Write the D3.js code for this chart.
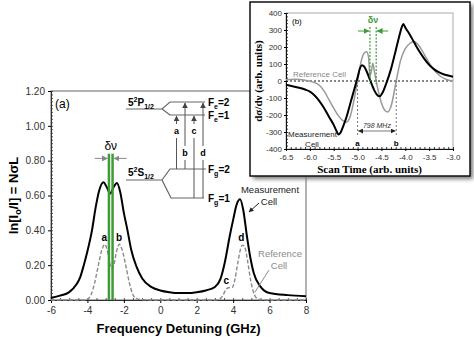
<!DOCTYPE html>
<html>
<head>
<meta charset="utf-8">
<script src="https://cdn.jsdelivr.net/npm/d3@7"></script>
<style>
  body { margin: 0; background: #fff; overflow: hidden; }
  svg { display: block; overflow: visible; }
</style>
</head>
<body>
<div id="chart"></div>
<script>
// panel (a): absorption vs detuning
const measFreq = [-6.0, -5.5, -5.0, -4.6, -4.4, -4.2, -4.0, -3.75, -3.55, -3.35, -3.12, -2.95, -2.75, -2.55, -2.38, -2.2, -2.0, -1.8, -1.6, -1.3, -1.0, -0.5, 0, 0.5, 1.0, 1.5, 2.0, 2.5, 3.0, 3.3, 3.55, 3.8, 4.0, 4.2, 4.38, 4.55, 4.76, 4.95, 5.13, 5.5, 6.0, 7.0, 8.0];
const measAbs = [0.012, 0.025, 0.045, 0.09, 0.13, 0.2, 0.28, 0.4, 0.53, 0.63, 0.676, 0.65, 0.612, 0.65, 0.672, 0.62, 0.5, 0.4, 0.29, 0.19, 0.125, 0.075, 0.055, 0.045, 0.04, 0.04, 0.045, 0.055, 0.075, 0.12, 0.22, 0.36, 0.46, 0.55, 0.578, 0.52, 0.364, 0.24, 0.155, 0.077, 0.04, 0.028, 0.022];
const refFreq = [-6.0, -4.2, -4.0, -3.8, -3.6, -3.4, -3.2, -3.05, -2.9, -2.75, -2.65, -2.55, -2.4, -2.25, -2.1, -1.9, -1.7, -1.5, -1.3, -1.0, 0, 3.0, 3.25, 3.45, 3.6, 3.75, 3.95, 4.1, 4.25, 4.4, 4.52, 4.65, 4.8, 4.95, 5.1, 5.25, 5.4, 6.0, 8.0];
const refAbs = [0, 0, 0.005, 0.03, 0.1, 0.2, 0.29, 0.32, 0.28, 0.2, 0.18, 0.2, 0.28, 0.32, 0.29, 0.2, 0.1, 0.03, 0.008, 0.002, 0, 0, 0.005, 0.03, 0.06, 0.07, 0.072, 0.12, 0.21, 0.29, 0.315, 0.3, 0.22, 0.12, 0.05, 0.015, 0.003, 0, 0];
const freqTicks = [-6, -4, -2, 0, 2, 4, 6, 8];
const absTicks = [0, 0.2, 0.4, 0.6, 0.8, 1.0, 1.2];
const deltaNuFreq = [-2.82, -2.62];
const peakLabels = ["a", "b", "c", "d"];
const peakFreq = [-3.08, -2.27, 3.62, 4.45];
const peakAbs = [0.36, 0.36, 0.11, 0.36];

// panel (b): derivative signals vs scan time
const measScan = [-6.5, -6.3, -6.1, -6.0, -5.9, -5.8, -5.7, -5.6, -5.5, -5.44, -5.4, -5.36, -5.3, -5.23, -5.15, -5.07, -5.0, -4.95, -4.91, -4.86, -4.8, -4.73, -4.65, -4.58, -4.54, -4.48, -4.4, -4.3, -4.2, -4.12, -4.07, -4.04, -4.0, -3.92, -3.8, -3.7, -3.6, -3.5, -3.4, -3.3, -3.2, -3.1, -3.0];
const measDeriv = [-22, -35, -50, -62, -85, -118, -160, -210, -258, -295, -315, -305, -265, -210, -130, -50, 20, 75, 93, 85, 50, 0, -55, -85, -90, -70, -15, 70, 180, 270, 320, 335, 315, 280, 220, 172, 130, 95, 70, 52, 40, 32, 25];
const refScan = [-6.5, -6.3, -6.1, -5.95, -5.8, -5.7, -5.6, -5.5, -5.4, -5.3, -5.23, -5.15, -5.08, -5.0, -4.93, -4.86, -4.81, -4.77, -4.74, -4.71, -4.68, -4.65, -4.58, -4.5, -4.42, -4.37, -4.3, -4.19, -4.1, -4.0, -3.9, -3.82, -3.75, -3.65, -3.55, -3.45, -3.35, -3.25, -3.15, -3.0];
const refDeriv = [8, 10, 5, -5, -25, -60, -110, -160, -205, -235, -242, -205, -120, 0, 110, 165, 172, 140, 30, 60, 105, 60, -40, -130, -175, -182, -150, 0, 120, 190, 222, 232, 220, 180, 130, 85, 50, 25, 10, 0];
const scanTicks = [-6.5, -6.0, -5.5, -5.0, -4.5, -4.0, -3.5, -3.0];
const derivTicks = [-400, -300, -200, -100, 0, 100, 200, 300, 400];
const crossingScan = [-5.0, -4.19];
const crossingLabels = ["a", "b"];
const deltaNuScan = [-4.74, -4.61];

const width = 474, height = 337;
const sans = "'Liberation Sans', Arial, sans-serif";
const serif = "'Liberation Serif', 'Times New Roman', serif";
const green = "#3f9a3a";

const svg = d3.select("#chart")
  .append("svg")
  .attr("width", width)
  .attr("height", height)
  .attr("font-family", sans);

const defs = svg.append("defs");
function marker(id, color, size) {
  defs.append("marker")
    .attr("id", id)
    .attr("viewBox", "0 0 10 10")
    .attr("refX", 9).attr("refY", 5)
    .attr("markerWidth", size).attr("markerHeight", size)
    .attr("orient", "auto-start-reverse")
    .attr("markerUnits", "userSpaceOnUse")
    .append("path")
    .attr("d", "M0,0 L10,5 L0,10 z")
    .attr("fill", color);
}
marker("arr-dark", "#444", 6);
marker("arr-gray", "#888", 6);
marker("arr-green", green, 6);
marker("arr-black", "#222", 5);

defs.append("filter").attr("id", "shadow")
  .attr("x", "-10%").attr("y", "-10%").attr("width", "130%").attr("height", "130%")
  .append("feGaussianBlur").attr("stdDeviation", 2);

// minor ticks: tick lines only, no empty labels
function minorTicks(g, axis, color) {
  g.call(axis);
  g.select(".domain").remove();
  g.selectAll("text").remove();
  g.selectAll("line").attr("stroke", color);
}

// ---------- main panel ----------
const margin = { top: 91, right: 168, bottom: 37, left: 51 };
const innerWidth = width - margin.left - margin.right;
const innerHeight = height - margin.top - margin.bottom;

const main = svg.append("g")
  .attr("transform", `translate(${margin.left},${margin.top})`);

const x = d3.scaleLinear().domain([-6, 8]).range([0, innerWidth]);
const y = d3.scaleLinear().domain([0, 1.2]).range([innerHeight, 0]);

main.append("rect")
  .attr("width", innerWidth)
  .attr("height", innerHeight)
  .attr("fill", "none")
  .attr("stroke", "#666");

main.append("g")
  .attr("transform", `translate(0,${innerHeight})`)
  .call(minorTicks, d3.axisBottom(x).tickValues(d3.range(-6, 8.01, 0.5)).tickSize(-2), "#555");

main.append("g")
  .call(minorTicks, d3.axisLeft(y).tickValues(d3.range(0, 1.201, 0.02)).tickSize(-2), "#555");

const xAxis = main.append("g")
  .attr("transform", `translate(0,${innerHeight})`)
  .call(d3.axisBottom(x).tickValues(freqTicks).tickSize(3).tickPadding(4).tickFormat(d => String(d)))
  .attr("font-family", sans)
  .attr("font-size", 10);
xAxis.select(".domain").attr("stroke", "#333");
xAxis.selectAll("text").attr("fill", "#333");

const yAxis = main.append("g")
  .call(d3.axisLeft(y).tickValues(absTicks).tickSize(3).tickPadding(3).tickFormat(d => d.toFixed(2)))
  .attr("font-family", sans)
  .attr("font-size", 10);
yAxis.select(".domain").attr("stroke", "#333");
yAxis.selectAll("text").attr("fill", "#333");

const line = d3.line()
  .x(d => x(d[0]))
  .y(d => y(d[1]))
  .curve(d3.curveMonotoneX);

main.append("path")
  .datum(d3.zip(refFreq, refAbs))
  .attr("d", line)
  .attr("fill", "none")
  .attr("stroke", "#8a8a8a")
  .attr("stroke-width", 1.4)
  .attr("stroke-dasharray", "4,2");

main.append("path")
  .datum(d3.zip(measFreq, measAbs))
  .attr("d", line)
  .attr("fill", "none")
  .attr("stroke", "#000")
  .attr("stroke-width", 2);

main.selectAll(".dnu")
  .data(deltaNuFreq)
  .enter()
  .append("line")
  .attr("class", "dnu")
  .attr("x1", d => x(d)).attr("x2", d => x(d))
  .attr("y1", y(0)).attr("y2", y(0.84))
  .attr("stroke", green)
  .attr("stroke-width", 2.5);

main.append("line")
  .attr("x1", x(-3.6)).attr("x2", x(deltaNuFreq[0]) - 1.5)
  .attr("y1", y(0.813)).attr("y2", y(0.813))
  .attr("stroke", "#888").attr("stroke-width", 1)
  .attr("marker-end", "url(#arr-gray)");
main.append("line")
  .attr("x1", x(-1.85)).attr("x2", x(deltaNuFreq[1]) + 1.5)
  .attr("y1", y(0.813)).attr("y2", y(0.813))
  .attr("stroke", "#888").attr("stroke-width", 1)
  .attr("marker-end", "url(#arr-gray)");
main.append("text")
  .attr("x", x(-2.72)).attr("y", y(0.86))
  .attr("text-anchor", "middle")
  .attr("font-size", 12)
  .text("δν");

main.selectAll(".peak")
  .data(peakLabels)
  .enter()
  .append("text")
  .attr("class", "peak")
  .attr("x", (d, i) => x(peakFreq[i]))
  .attr("y", (d, i) => y(peakAbs[i]) + 3.5)
  .attr("text-anchor", "middle")
  .attr("font-size", 10)
  .attr("font-weight", "bold")
  .text(d => d);

main.append("text")
  .attr("x", 4).attr("y", 17)
  .attr("font-size", 12)
  .text("(a)");

// annotations in absolute coordinates
svg.append("text")
  .attr("x", 270).attr("y", 193)
  .attr("text-anchor", "middle")
  .attr("font-size", 9.5)
  .attr("fill", "#222")
  .text("Measurement");
svg.append("text")
  .attr("x", 269).attr("y", 205)
  .attr("text-anchor", "middle")
  .attr("font-size", 9.5)
  .attr("fill", "#222")
  .text("Cell");
svg.append("line")
  .attr("x1", 259).attr("y1", 203).attr("x2", 249).attr("y2", 212)
  .attr("stroke", "#222").attr("stroke-width", 1)
  .attr("marker-end", "url(#arr-black)");

svg.append("text")
  .attr("x", 280).attr("y", 257)
  .attr("text-anchor", "middle")
  .attr("font-size", 9.5)
  .attr("fill", "#8a8a8a")
  .text("Reference");
svg.append("text")
  .attr("x", 279).attr("y", 269)
  .attr("text-anchor", "middle")
  .attr("font-size", 9.5)
  .attr("fill", "#8a8a8a")
  .text("Cell");
svg.append("line")
  .attr("x1", 269).attr("y1", 270).attr("x2", 255).attr("y2", 292)
  .attr("stroke", "#8a8a8a").attr("stroke-width", 1);

svg.append("text")
  .attr("x", margin.left + innerWidth / 2).attr("y", 333)
  .attr("text-anchor", "middle")
  .attr("font-size", 13)
  .attr("font-weight", "bold")
  .text("Frequency Detuning (GHz)");

const yTitle = svg.append("text")
  .attr("transform", `translate(18,${margin.top + innerHeight / 2}) rotate(-90)`)
  .attr("text-anchor", "middle")
  .attr("font-size", 13)
  .attr("font-weight", "bold");
yTitle.append("tspan").text("ln[I");
yTitle.append("tspan").attr("dy", 3).attr("font-size", 9).text("o");
yTitle.append("tspan").attr("dy", -3).text("/I] = NσL");

// ---------- level diagram ----------
const diagram = svg.append("g")
  .attr("stroke", "#666")
  .attr("stroke-width", 1.2)
  .attr("fill", "none");
const levelY = { P: 109, e2: 102, e1: 115, S: 180, g2: 169, g1: 198 };
diagram.append("path").attr("d", `M126,${levelY.P} H162 L170,${levelY.e2} H205 M162,${levelY.P} L170,${levelY.e1} H205`);
diagram.append("path").attr("d", `M126,${levelY.S} H162 L170,${levelY.g2} H206 M162,${levelY.S} L171,${levelY.g1} H204`);

function stateLabel(xPos, yBase, main1, sup, sub) {
  const t = svg.append("text").attr("x", xPos).attr("y", yBase)
    .attr("font-size", 10).attr("font-weight", "bold");
  t.append("tspan").text(main1);
  t.append("tspan").attr("dy", -4).attr("font-size", 7).text(sup);
  t.append("tspan").attr("dy", 4).text(sub[0]);
  t.append("tspan").attr("dy", 3).attr("font-size", 7).text(sub[1]);
}
stateLabel(128, 106, "5", "2", ["P", "1/2"]);
stateLabel(128, 176, "5", "2", ["S", "1/2"]);

function levelLabel(yPos, sub, num) {
  const t = svg.append("text").attr("x", 208).attr("y", yPos + 4)
    .attr("font-size", 10).attr("font-weight", "bold");
  t.append("tspan").text("F");
  t.append("tspan").attr("dy", 3).attr("font-size", 7).text(sub);
  t.append("tspan").attr("dy", -3).text("=" + num);
}
levelLabel(levelY.e2, "e", 2);
levelLabel(levelY.e1, "e", 1);
levelLabel(levelY.g2, "g", 2);
levelLabel(levelY.g1, "g", 1);

const transitions = [
  { name: "a", x: 176.5, from: levelY.g2, to: levelY.e1, label: 131 },
  { name: "b", x: 185, from: levelY.g2, to: levelY.e2, label: 153 },
  { name: "c", x: 194, from: levelY.g1, to: levelY.e1, label: 131 },
  { name: "d", x: 203, from: levelY.g1, to: levelY.e2, label: 153 }
];
transitions.forEach(t => {
  svg.append("line")
    .attr("x1", t.x).attr("x2", t.x)
    .attr("y1", t.from).attr("y2", t.label + 7)
    .attr("stroke", "#555").attr("stroke-width", 1);
  svg.append("line")
    .attr("x1", t.x).attr("x2", t.x)
    .attr("y1", t.label - 7).attr("y2", t.to + 1)
    .attr("stroke", "#555").attr("stroke-width", 1)
    .attr("marker-end", "url(#arr-dark)");
  svg.append("text")
    .attr("x", t.x).attr("y", t.label + 3)
    .attr("text-anchor", "middle")
    .attr("font-size", 9)
    .attr("font-weight", "bold")
    .text(t.name);
});

// ---------- inset (b) ----------
const box = { x: 250, y: 2, w: 220, h: 174 };
svg.append("rect")
  .attr("x", box.x + 3).attr("y", box.y + 3)
  .attr("width", box.w).attr("height", box.h)
  .attr("fill", "#777")
  .attr("filter", "url(#shadow)");
svg.append("rect")
  .attr("x", box.x).attr("y", box.y)
  .attr("width", box.w).attr("height", box.h)
  .attr("fill", "#fff")
  .attr("stroke", "#111")
  .attr("stroke-width", 1.5);

const im = { top: 13, left: 286, width: 167, height: 136 };
const inset = svg.append("g")
  .attr("transform", `translate(${im.left},${im.top})`);

const xs = d3.scaleLinear().domain([-6.5, -3.0]).range([0, im.width]);
const ys = d3.scaleLinear().domain([-400, 400]).range([im.height, 0]);

inset.append("rect")
  .attr("width", im.width).attr("height", im.height)
  .attr("fill", "none").attr("stroke", "#aaa");

inset.append("g")
  .attr("transform", `translate(0,${im.height})`)
  .call(minorTicks, d3.axisBottom(xs).tickValues(d3.range(-6.5, -2.99, 0.1)).tickSize(-2), "#333");
inset.append("g")
  .call(minorTicks, d3.axisLeft(ys).tickValues(d3.range(-400, 401, 20)).tickSize(-2), "#333");

const sxAxis = inset.append("g")
  .attr("transform", `translate(0,${im.height})`)
  .call(d3.axisBottom(xs).tickValues(scanTicks).tickSize(2).tickPadding(3).tickFormat(d => d.toFixed(1)))
  .attr("font-family", sans)
  .attr("font-size", 8);
sxAxis.select(".domain").attr("stroke", "#111");
sxAxis.selectAll("text").attr("fill", "#333");

const syAxis = inset.append("g")
  .call(d3.axisLeft(ys).tickValues(derivTicks).tickSize(2).tickPadding(2).tickFormat(d => String(d)))
  .attr("font-family", sans)
  .attr("font-size", 8);
syAxis.select(".domain").attr("stroke", "#111");
syAxis.selectAll("text").attr("fill", "#333");

inset.append("line")
  .attr("x1", 0).attr("x2", im.width)
  .attr("y1", ys(0)).attr("y2", ys(0))
  .attr("stroke", "#111").attr("stroke-dasharray", "2,2");

const sline = d3.line()
  .x(d => xs(d[0]))
  .y(d => ys(d[1]))
  .curve(d3.curveMonotoneX);

inset.append("path")
  .datum(d3.zip(refScan, refDeriv))
  .attr("d", sline)
  .attr("fill", "none")
  .attr("stroke", "#999")
  .attr("stroke-width", 1.5);

inset.append("path")
  .datum(d3.zip(measScan, measDeriv))
  .attr("d", sline)
  .attr("fill", "none")
  .attr("stroke", "#000")
  .attr("stroke-width", 2);

inset.selectAll(".cross")
  .data(crossingScan)
  .enter()
  .append("line")
  .attr("x1", d => xs(d)).attr("x2", d => xs(d))
  .attr("y1", ys(0)).attr("y2", 124)
  .attr("stroke", "#777").attr("stroke-dasharray", "2,2");
inset.selectAll(".crossLabel")
  .data(crossingLabels)
  .enter()
  .append("text")
  .attr("x", (d, i) => xs(crossingScan[i]))
  .attr("y", 133)
  .attr("text-anchor", "middle")
  .attr("font-size", 8)
  .attr("font-weight", "bold")
  .text(d => d);
inset.append("line")
  .attr("x1", xs(crossingScan[0]) + 1).attr("x2", xs(crossingScan[1]) - 1)
  .attr("y1", 118).attr("y2", 118)
  .attr("stroke", "#555").attr("stroke-width", 0.8)
  .attr("marker-start", "url(#arr-black)")
  .attr("marker-end", "url(#arr-black)");
inset.append("text")
  .attr("x", (xs(crossingScan[0]) + xs(crossingScan[1])) / 2)
  .attr("y", 115)
  .attr("text-anchor", "middle")
  .attr("font-size", 7)
  .attr("font-style", "italic")
  .attr("fill", "#333")
  .text("798 MHz");

inset.selectAll(".sdnu")
  .data(deltaNuScan)
  .enter()
  .append("line")
  .attr("x1", d => xs(d)).attr("x2", d => xs(d))
  .attr("y1", 14).attr("y2", ys(0) + 3)
  .attr("stroke", green).attr("stroke-width", 1.2)
  .attr("stroke-dasharray", "2,1.5");
inset.append("line")
  .attr("x1", xs(deltaNuScan[0]) - 12).attr("x2", xs(deltaNuScan[0]) - 1)
  .attr("y1", 18).attr("y2", 18)
  .attr("stroke", green).attr("marker-end", "url(#arr-green)");
inset.append("line")
  .attr("x1", xs(deltaNuScan[1]) + 12).attr("x2", xs(deltaNuScan[1]) + 1)
  .attr("y1", 18).attr("y2", 18)
  .attr("stroke", green).attr("marker-end", "url(#arr-green)");
inset.append("text")
  .attr("x", (xs(deltaNuScan[0]) + xs(deltaNuScan[1])) / 2)
  .attr("y", 10)
  .attr("text-anchor", "middle")
  .attr("font-size", 9)
  .attr("font-weight", "bold")
  .attr("fill", green)
  .text("δν");

inset.append("text")
  .attr("x", 6).attr("y", 11)
  .attr("font-size", 8)
  .text("(b)");
inset.append("text")
  .attr("x", 7).attr("y", ys(0) - 4)
  .attr("font-size", 8)
  .attr("fill", "#888")
  .text("Reference Cell");
inset.append("text")
  .attr("x", 2).attr("y", 124)
  .attr("font-size", 8)
  .attr("fill", "#222")
  .text("Measurement");
inset.append("text")
  .attr("x", 26).attr("y", 134)
  .attr("text-anchor", "middle")
  .attr("font-size", 8)
  .attr("fill", "#222")
  .text("Cell");

svg.append("text")
  .attr("x", im.left + im.width / 2).attr("y", 173)
  .attr("text-anchor", "middle")
  .attr("font-family", serif)
  .attr("font-size", 11)
  .attr("font-weight", "bold")
  .text("Scan Time (arb. units)");
svg.append("text")
  .attr("transform", `translate(262,${im.top + im.height / 2}) rotate(-90)`)
  .attr("text-anchor", "middle")
  .attr("font-family", serif)
  .attr("font-size", 11)
  .attr("font-weight", "bold")
  .text("dσ/dν (arb. units)");
</script>
</body>
</html>
